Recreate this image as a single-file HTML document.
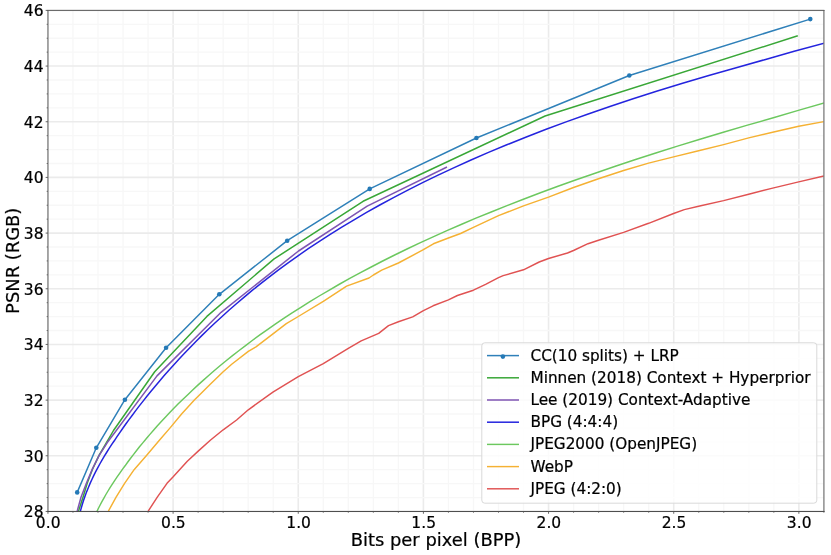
<!DOCTYPE html>
<html><head><meta charset="utf-8"><title>PSNR vs BPP</title>
<style>
html,body{margin:0;padding:0;background:#fff;}
svg{display:block;}
text{font-family:"DejaVu Sans","Liberation Sans",sans-serif;fill:#000;stroke:#000;stroke-width:0.22px;}
</style></head><body>
<svg width="831" height="555" viewBox="0 0 831 555">
<rect width="831" height="555" fill="#fff"/>
<defs><clipPath id="ax"><rect x="47.95" y="10.4" width="775.9499999999999" height="501.05"/></clipPath></defs>
<g><line x1="47.95" y1="10.4" x2="47.95" y2="511.45" stroke="#ebebeb" stroke-width="1.6"/>
<line x1="72.98" y1="10.4" x2="72.98" y2="511.45" stroke="#f7f7f7" stroke-width="1.3"/>
<line x1="98.01" y1="10.4" x2="98.01" y2="511.45" stroke="#f7f7f7" stroke-width="1.3"/>
<line x1="123.04" y1="10.4" x2="123.04" y2="511.45" stroke="#f7f7f7" stroke-width="1.3"/>
<line x1="148.07" y1="10.4" x2="148.07" y2="511.45" stroke="#f7f7f7" stroke-width="1.3"/>
<line x1="173.10" y1="10.4" x2="173.10" y2="511.45" stroke="#ebebeb" stroke-width="1.6"/>
<line x1="198.13" y1="10.4" x2="198.13" y2="511.45" stroke="#f7f7f7" stroke-width="1.3"/>
<line x1="223.16" y1="10.4" x2="223.16" y2="511.45" stroke="#f7f7f7" stroke-width="1.3"/>
<line x1="248.20" y1="10.4" x2="248.20" y2="511.45" stroke="#f7f7f7" stroke-width="1.3"/>
<line x1="273.23" y1="10.4" x2="273.23" y2="511.45" stroke="#f7f7f7" stroke-width="1.3"/>
<line x1="298.26" y1="10.4" x2="298.26" y2="511.45" stroke="#ebebeb" stroke-width="1.6"/>
<line x1="323.29" y1="10.4" x2="323.29" y2="511.45" stroke="#f7f7f7" stroke-width="1.3"/>
<line x1="348.32" y1="10.4" x2="348.32" y2="511.45" stroke="#f7f7f7" stroke-width="1.3"/>
<line x1="373.35" y1="10.4" x2="373.35" y2="511.45" stroke="#f7f7f7" stroke-width="1.3"/>
<line x1="398.38" y1="10.4" x2="398.38" y2="511.45" stroke="#f7f7f7" stroke-width="1.3"/>
<line x1="423.41" y1="10.4" x2="423.41" y2="511.45" stroke="#ebebeb" stroke-width="1.6"/>
<line x1="448.44" y1="10.4" x2="448.44" y2="511.45" stroke="#f7f7f7" stroke-width="1.3"/>
<line x1="473.47" y1="10.4" x2="473.47" y2="511.45" stroke="#f7f7f7" stroke-width="1.3"/>
<line x1="498.50" y1="10.4" x2="498.50" y2="511.45" stroke="#f7f7f7" stroke-width="1.3"/>
<line x1="523.53" y1="10.4" x2="523.53" y2="511.45" stroke="#f7f7f7" stroke-width="1.3"/>
<line x1="548.56" y1="10.4" x2="548.56" y2="511.45" stroke="#ebebeb" stroke-width="1.6"/>
<line x1="573.59" y1="10.4" x2="573.59" y2="511.45" stroke="#f7f7f7" stroke-width="1.3"/>
<line x1="598.62" y1="10.4" x2="598.62" y2="511.45" stroke="#f7f7f7" stroke-width="1.3"/>
<line x1="623.65" y1="10.4" x2="623.65" y2="511.45" stroke="#f7f7f7" stroke-width="1.3"/>
<line x1="648.69" y1="10.4" x2="648.69" y2="511.45" stroke="#f7f7f7" stroke-width="1.3"/>
<line x1="673.72" y1="10.4" x2="673.72" y2="511.45" stroke="#ebebeb" stroke-width="1.6"/>
<line x1="698.75" y1="10.4" x2="698.75" y2="511.45" stroke="#f7f7f7" stroke-width="1.3"/>
<line x1="723.78" y1="10.4" x2="723.78" y2="511.45" stroke="#f7f7f7" stroke-width="1.3"/>
<line x1="748.81" y1="10.4" x2="748.81" y2="511.45" stroke="#f7f7f7" stroke-width="1.3"/>
<line x1="773.84" y1="10.4" x2="773.84" y2="511.45" stroke="#f7f7f7" stroke-width="1.3"/>
<line x1="798.87" y1="10.4" x2="798.87" y2="511.45" stroke="#ebebeb" stroke-width="1.6"/>
<line x1="823.90" y1="10.4" x2="823.90" y2="511.45" stroke="#f7f7f7" stroke-width="1.3"/>
<line x1="47.95" y1="10.40" x2="823.9" y2="10.40" stroke="#ebebeb" stroke-width="1.6"/>
<line x1="47.95" y1="24.32" x2="823.9" y2="24.32" stroke="#f7f7f7" stroke-width="1.3"/>
<line x1="47.95" y1="38.24" x2="823.9" y2="38.24" stroke="#f7f7f7" stroke-width="1.3"/>
<line x1="47.95" y1="52.15" x2="823.9" y2="52.15" stroke="#f7f7f7" stroke-width="1.3"/>
<line x1="47.95" y1="66.07" x2="823.9" y2="66.07" stroke="#ebebeb" stroke-width="1.6"/>
<line x1="47.95" y1="79.99" x2="823.9" y2="79.99" stroke="#f7f7f7" stroke-width="1.3"/>
<line x1="47.95" y1="93.91" x2="823.9" y2="93.91" stroke="#f7f7f7" stroke-width="1.3"/>
<line x1="47.95" y1="107.83" x2="823.9" y2="107.83" stroke="#f7f7f7" stroke-width="1.3"/>
<line x1="47.95" y1="121.74" x2="823.9" y2="121.74" stroke="#ebebeb" stroke-width="1.6"/>
<line x1="47.95" y1="135.66" x2="823.9" y2="135.66" stroke="#f7f7f7" stroke-width="1.3"/>
<line x1="47.95" y1="149.58" x2="823.9" y2="149.58" stroke="#f7f7f7" stroke-width="1.3"/>
<line x1="47.95" y1="163.50" x2="823.9" y2="163.50" stroke="#f7f7f7" stroke-width="1.3"/>
<line x1="47.95" y1="177.42" x2="823.9" y2="177.42" stroke="#ebebeb" stroke-width="1.6"/>
<line x1="47.95" y1="191.33" x2="823.9" y2="191.33" stroke="#f7f7f7" stroke-width="1.3"/>
<line x1="47.95" y1="205.25" x2="823.9" y2="205.25" stroke="#f7f7f7" stroke-width="1.3"/>
<line x1="47.95" y1="219.17" x2="823.9" y2="219.17" stroke="#f7f7f7" stroke-width="1.3"/>
<line x1="47.95" y1="233.09" x2="823.9" y2="233.09" stroke="#ebebeb" stroke-width="1.6"/>
<line x1="47.95" y1="247.01" x2="823.9" y2="247.01" stroke="#f7f7f7" stroke-width="1.3"/>
<line x1="47.95" y1="260.93" x2="823.9" y2="260.93" stroke="#f7f7f7" stroke-width="1.3"/>
<line x1="47.95" y1="274.84" x2="823.9" y2="274.84" stroke="#f7f7f7" stroke-width="1.3"/>
<line x1="47.95" y1="288.76" x2="823.9" y2="288.76" stroke="#ebebeb" stroke-width="1.6"/>
<line x1="47.95" y1="302.68" x2="823.9" y2="302.68" stroke="#f7f7f7" stroke-width="1.3"/>
<line x1="47.95" y1="316.60" x2="823.9" y2="316.60" stroke="#f7f7f7" stroke-width="1.3"/>
<line x1="47.95" y1="330.52" x2="823.9" y2="330.52" stroke="#f7f7f7" stroke-width="1.3"/>
<line x1="47.95" y1="344.43" x2="823.9" y2="344.43" stroke="#ebebeb" stroke-width="1.6"/>
<line x1="47.95" y1="358.35" x2="823.9" y2="358.35" stroke="#f7f7f7" stroke-width="1.3"/>
<line x1="47.95" y1="372.27" x2="823.9" y2="372.27" stroke="#f7f7f7" stroke-width="1.3"/>
<line x1="47.95" y1="386.19" x2="823.9" y2="386.19" stroke="#f7f7f7" stroke-width="1.3"/>
<line x1="47.95" y1="400.11" x2="823.9" y2="400.11" stroke="#ebebeb" stroke-width="1.6"/>
<line x1="47.95" y1="414.02" x2="823.9" y2="414.02" stroke="#f7f7f7" stroke-width="1.3"/>
<line x1="47.95" y1="427.94" x2="823.9" y2="427.94" stroke="#f7f7f7" stroke-width="1.3"/>
<line x1="47.95" y1="441.86" x2="823.9" y2="441.86" stroke="#f7f7f7" stroke-width="1.3"/>
<line x1="47.95" y1="455.78" x2="823.9" y2="455.78" stroke="#ebebeb" stroke-width="1.6"/>
<line x1="47.95" y1="469.70" x2="823.9" y2="469.70" stroke="#f7f7f7" stroke-width="1.3"/>
<line x1="47.95" y1="483.61" x2="823.9" y2="483.61" stroke="#f7f7f7" stroke-width="1.3"/>
<line x1="47.95" y1="497.53" x2="823.9" y2="497.53" stroke="#f7f7f7" stroke-width="1.3"/>
<line x1="47.95" y1="511.45" x2="823.9" y2="511.45" stroke="#ebebeb" stroke-width="1.6"/></g>
<g clip-path="url(#ax)" fill="none" stroke-linejoin="round" stroke-linecap="butt">
<polyline points="77.0,516.0 78.5,511.1 83.0,497.2 87.2,483.3 92.4,469.4 99.0,455.4 106.0,443.5 113.5,430.5 154.7,371.8 206.9,316.4 274.1,258.9 363.1,201.3 545.1,116.0 797.8,35.8" stroke="#39a737" stroke-width="1.5"/>
<polyline points="76.0,516.0 77.2,511.1 81.0,497.2 86.4,483.3 92.2,469.4 99.2,455.4 107.3,442.5 116.5,430.3 157.0,375.9 221.1,312.3 298.5,251.0 367.2,206.2 447.0,167.0" stroke="#7f55b3" stroke-width="1.5"/>
<polyline points="79.5,514.5 80.8,509.6 82.2,504.8 83.6,500.3 85.1,495.9 86.7,491.6 88.4,487.5 90.1,483.4 91.9,479.5 93.7,475.6 95.7,471.7 97.7,467.8 99.8,464.0 102.0,460.2 104.2,456.4 106.6,452.5 109.0,448.6 111.6,444.7 114.3,440.8 117.0,436.7 119.8,432.6 122.8,428.3 125.8,424.0 129.0,419.6 132.3,415.2 135.7,410.6 139.3,405.9 143.1,401.1 146.9,396.2 151.0,391.3 155.2,386.2 159.6,381.0 164.2,375.6 168.9,370.2 173.9,364.7 179.1,359.1 184.5,353.3 190.1,347.5 195.9,341.5 202.0,335.4 208.3,329.3 214.9,323.0 221.8,316.7 228.9,310.3 236.4,303.7 244.2,297.1 252.2,290.4 260.7,283.6 269.4,276.8 278.5,269.9 288.1,262.9 298.0,255.8 308.3,248.7 319.0,241.6 330.2,234.4 341.8,227.1 354.0,219.8 366.6,212.4 379.8,205.0 393.5,197.6 407.8,190.1 422.6,182.6 438.1,175.1 454.2,167.6 471.0,160.0 488.5,152.4 506.8,144.8 525.7,137.2 545.5,129.5 566.1,121.9 587.5,114.2 609.9,106.5 633.1,98.8 657.3,91.0 682.6,83.3 708.8,75.5 736.2,67.7 764.7,59.7 794.2,51.3 825.0,42.9" stroke="#2424de" stroke-width="1.5"/>
<polyline points="96.5,512.4 98.2,508.8 100.0,505.2 101.9,501.6 103.9,498.1 105.9,494.5 108.0,491.0 110.2,487.4 112.5,483.9 114.8,480.3 117.3,476.7 119.8,473.1 122.4,469.4 125.1,465.8 127.8,462.0 130.6,458.2 133.6,454.4 136.6,450.5 139.7,446.5 143.0,442.6 146.4,438.5 149.9,434.4 153.5,430.3 157.2,426.0 161.1,421.8 165.1,417.4 169.3,413.0 173.6,408.6 178.0,404.1 182.7,399.5 187.5,394.9 192.4,390.2 197.6,385.4 202.9,380.6 208.4,375.7 214.1,370.8 220.0,365.8 226.1,360.8 232.5,355.6 239.1,350.5 245.9,345.3 252.9,340.0 260.2,334.7 267.8,329.3 275.6,323.9 283.7,318.4 292.1,312.9 300.9,307.3 309.9,301.7 319.2,296.0 328.9,290.3 338.9,284.5 349.3,278.7 360.0,272.9 371.2,267.0 382.7,261.0 394.7,255.0 407.0,249.0 419.9,242.9 433.1,236.8 446.9,230.7 461.1,224.5 475.9,218.2 491.2,212.0 507.0,205.6 523.4,199.2 540.4,192.8 558.0,186.3 576.2,179.8 595.1,173.2 614.6,166.5 634.8,159.8 655.8,153.0 677.5,146.1 700.0,139.2 723.3,132.2 747.5,125.1 772.5,118.0 798.3,110.4 825.0,102.7" stroke="#6cc85f" stroke-width="1.45"/>
<polyline points="108.4,511.1 116.1,497.2 124.6,483.3 134.3,469.4 146.5,455.4 159.6,440.0 170.3,427.6 181.8,413.7 194.6,399.8 198.2,396.2 210.0,384.6 223.2,371.8 231.7,364.2 248.3,351.4 256.0,346.8 273.3,333.6 286.3,323.7 298.3,316.5 323.3,301.3 346.6,286.1 369.0,278.0 373.4,275.0 381.7,270.2 398.4,263.0 423.4,249.7 433.4,243.8 448.4,238.0 460.6,233.5 473.4,227.3 498.5,215.6 523.5,205.9 548.5,197.1 573.5,187.5 598.5,178.7 623.6,170.5 648.6,163.1 673.6,156.9 698.6,150.8 723.6,144.6 748.7,137.9 773.7,132.0 798.7,126.3 823.9,121.6" stroke="#f5b133" stroke-width="1.45"/>
<polyline points="148.2,511.1 157.3,497.2 167.0,483.3 173.2,476.8 187.3,461.2 198.2,451.1 210.3,440.3 223.2,429.8 236.6,420.0 248.3,409.8 269.4,394.6 273.3,391.9 298.3,376.7 323.3,363.7 348.3,348.3 361.2,340.8 378.7,333.4 388.5,325.6 398.4,321.8 412.7,316.9 423.4,310.6 433.1,305.8 448.4,299.9 457.4,295.5 473.4,290.2 485.6,284.4 498.5,277.6 503.2,275.6 523.5,269.8 539.2,262.0 548.5,258.5 567.5,253.0 573.5,250.5 588.0,243.7 598.5,240.2 623.6,232.4 648.6,223.3 673.6,213.5 684.3,209.6 698.6,206.3 723.6,200.6 748.7,194.2 773.7,187.9 798.7,181.9 823.9,176.0" stroke="#e05252" stroke-width="1.45"/>
<polyline points="77.2,492.4 96.3,447.8 124.9,399.7 166.1,347.7 219.3,294.3 287.2,240.7 369.7,188.9 476.4,138.0 629.3,75.5 810.3,19.1" stroke="#2f80b9" stroke-width="1.5"/>
<circle cx="77.2" cy="492.4" r="2.3" fill="#2479b6"/><circle cx="96.3" cy="447.8" r="2.3" fill="#2479b6"/><circle cx="124.9" cy="399.7" r="2.3" fill="#2479b6"/><circle cx="166.1" cy="347.7" r="2.3" fill="#2479b6"/><circle cx="219.3" cy="294.3" r="2.3" fill="#2479b6"/><circle cx="287.2" cy="240.7" r="2.3" fill="#2479b6"/><circle cx="369.7" cy="188.9" r="2.3" fill="#2479b6"/><circle cx="476.4" cy="138.0" r="2.3" fill="#2479b6"/><circle cx="629.3" cy="75.5" r="2.3" fill="#2479b6"/><circle cx="810.3" cy="19.1" r="2.3" fill="#2479b6"/>
</g>
<line x1="47.95" y1="9.9" x2="47.95" y2="511.95" stroke="#7a7a7a" stroke-width="1.25"/>
<line x1="823.9" y1="9.9" x2="823.9" y2="511.95" stroke="#7a7a7a" stroke-width="1.25"/>
<line x1="47.35" y1="10.4" x2="824.5" y2="10.4" stroke="#5c5c5c" stroke-width="1.0"/>
<line x1="47.35" y1="511.45" x2="824.5" y2="511.45" stroke="#454545" stroke-width="1.0"/>
<g><line x1="47.95" y1="511.45" x2="47.95" y2="513.75" stroke="#555" stroke-width="0.9"/>
<line x1="72.98" y1="511.45" x2="72.98" y2="512.75" stroke="#555" stroke-width="0.8"/>
<line x1="98.01" y1="511.45" x2="98.01" y2="512.75" stroke="#555" stroke-width="0.8"/>
<line x1="123.04" y1="511.45" x2="123.04" y2="512.75" stroke="#555" stroke-width="0.8"/>
<line x1="148.07" y1="511.45" x2="148.07" y2="512.75" stroke="#555" stroke-width="0.8"/>
<line x1="173.10" y1="511.45" x2="173.10" y2="513.75" stroke="#555" stroke-width="0.9"/>
<line x1="198.13" y1="511.45" x2="198.13" y2="512.75" stroke="#555" stroke-width="0.8"/>
<line x1="223.16" y1="511.45" x2="223.16" y2="512.75" stroke="#555" stroke-width="0.8"/>
<line x1="248.20" y1="511.45" x2="248.20" y2="512.75" stroke="#555" stroke-width="0.8"/>
<line x1="273.23" y1="511.45" x2="273.23" y2="512.75" stroke="#555" stroke-width="0.8"/>
<line x1="298.26" y1="511.45" x2="298.26" y2="513.75" stroke="#555" stroke-width="0.9"/>
<line x1="323.29" y1="511.45" x2="323.29" y2="512.75" stroke="#555" stroke-width="0.8"/>
<line x1="348.32" y1="511.45" x2="348.32" y2="512.75" stroke="#555" stroke-width="0.8"/>
<line x1="373.35" y1="511.45" x2="373.35" y2="512.75" stroke="#555" stroke-width="0.8"/>
<line x1="398.38" y1="511.45" x2="398.38" y2="512.75" stroke="#555" stroke-width="0.8"/>
<line x1="423.41" y1="511.45" x2="423.41" y2="513.75" stroke="#555" stroke-width="0.9"/>
<line x1="448.44" y1="511.45" x2="448.44" y2="512.75" stroke="#555" stroke-width="0.8"/>
<line x1="473.47" y1="511.45" x2="473.47" y2="512.75" stroke="#555" stroke-width="0.8"/>
<line x1="498.50" y1="511.45" x2="498.50" y2="512.75" stroke="#555" stroke-width="0.8"/>
<line x1="523.53" y1="511.45" x2="523.53" y2="512.75" stroke="#555" stroke-width="0.8"/>
<line x1="548.56" y1="511.45" x2="548.56" y2="513.75" stroke="#555" stroke-width="0.9"/>
<line x1="573.59" y1="511.45" x2="573.59" y2="512.75" stroke="#555" stroke-width="0.8"/>
<line x1="598.62" y1="511.45" x2="598.62" y2="512.75" stroke="#555" stroke-width="0.8"/>
<line x1="623.65" y1="511.45" x2="623.65" y2="512.75" stroke="#555" stroke-width="0.8"/>
<line x1="648.69" y1="511.45" x2="648.69" y2="512.75" stroke="#555" stroke-width="0.8"/>
<line x1="673.72" y1="511.45" x2="673.72" y2="513.75" stroke="#555" stroke-width="0.9"/>
<line x1="698.75" y1="511.45" x2="698.75" y2="512.75" stroke="#555" stroke-width="0.8"/>
<line x1="723.78" y1="511.45" x2="723.78" y2="512.75" stroke="#555" stroke-width="0.8"/>
<line x1="748.81" y1="511.45" x2="748.81" y2="512.75" stroke="#555" stroke-width="0.8"/>
<line x1="773.84" y1="511.45" x2="773.84" y2="512.75" stroke="#555" stroke-width="0.8"/>
<line x1="798.87" y1="511.45" x2="798.87" y2="513.75" stroke="#555" stroke-width="0.9"/>
<line x1="823.90" y1="511.45" x2="823.90" y2="512.75" stroke="#555" stroke-width="0.8"/>
<line x1="45.650000000000006" y1="10.40" x2="47.95" y2="10.40" stroke="#555" stroke-width="0.9"/>
<line x1="46.650000000000006" y1="24.32" x2="47.95" y2="24.32" stroke="#555" stroke-width="0.8"/>
<line x1="46.650000000000006" y1="38.24" x2="47.95" y2="38.24" stroke="#555" stroke-width="0.8"/>
<line x1="46.650000000000006" y1="52.15" x2="47.95" y2="52.15" stroke="#555" stroke-width="0.8"/>
<line x1="45.650000000000006" y1="66.07" x2="47.95" y2="66.07" stroke="#555" stroke-width="0.9"/>
<line x1="46.650000000000006" y1="79.99" x2="47.95" y2="79.99" stroke="#555" stroke-width="0.8"/>
<line x1="46.650000000000006" y1="93.91" x2="47.95" y2="93.91" stroke="#555" stroke-width="0.8"/>
<line x1="46.650000000000006" y1="107.83" x2="47.95" y2="107.83" stroke="#555" stroke-width="0.8"/>
<line x1="45.650000000000006" y1="121.74" x2="47.95" y2="121.74" stroke="#555" stroke-width="0.9"/>
<line x1="46.650000000000006" y1="135.66" x2="47.95" y2="135.66" stroke="#555" stroke-width="0.8"/>
<line x1="46.650000000000006" y1="149.58" x2="47.95" y2="149.58" stroke="#555" stroke-width="0.8"/>
<line x1="46.650000000000006" y1="163.50" x2="47.95" y2="163.50" stroke="#555" stroke-width="0.8"/>
<line x1="45.650000000000006" y1="177.42" x2="47.95" y2="177.42" stroke="#555" stroke-width="0.9"/>
<line x1="46.650000000000006" y1="191.33" x2="47.95" y2="191.33" stroke="#555" stroke-width="0.8"/>
<line x1="46.650000000000006" y1="205.25" x2="47.95" y2="205.25" stroke="#555" stroke-width="0.8"/>
<line x1="46.650000000000006" y1="219.17" x2="47.95" y2="219.17" stroke="#555" stroke-width="0.8"/>
<line x1="45.650000000000006" y1="233.09" x2="47.95" y2="233.09" stroke="#555" stroke-width="0.9"/>
<line x1="46.650000000000006" y1="247.01" x2="47.95" y2="247.01" stroke="#555" stroke-width="0.8"/>
<line x1="46.650000000000006" y1="260.93" x2="47.95" y2="260.93" stroke="#555" stroke-width="0.8"/>
<line x1="46.650000000000006" y1="274.84" x2="47.95" y2="274.84" stroke="#555" stroke-width="0.8"/>
<line x1="45.650000000000006" y1="288.76" x2="47.95" y2="288.76" stroke="#555" stroke-width="0.9"/>
<line x1="46.650000000000006" y1="302.68" x2="47.95" y2="302.68" stroke="#555" stroke-width="0.8"/>
<line x1="46.650000000000006" y1="316.60" x2="47.95" y2="316.60" stroke="#555" stroke-width="0.8"/>
<line x1="46.650000000000006" y1="330.52" x2="47.95" y2="330.52" stroke="#555" stroke-width="0.8"/>
<line x1="45.650000000000006" y1="344.43" x2="47.95" y2="344.43" stroke="#555" stroke-width="0.9"/>
<line x1="46.650000000000006" y1="358.35" x2="47.95" y2="358.35" stroke="#555" stroke-width="0.8"/>
<line x1="46.650000000000006" y1="372.27" x2="47.95" y2="372.27" stroke="#555" stroke-width="0.8"/>
<line x1="46.650000000000006" y1="386.19" x2="47.95" y2="386.19" stroke="#555" stroke-width="0.8"/>
<line x1="45.650000000000006" y1="400.11" x2="47.95" y2="400.11" stroke="#555" stroke-width="0.9"/>
<line x1="46.650000000000006" y1="414.02" x2="47.95" y2="414.02" stroke="#555" stroke-width="0.8"/>
<line x1="46.650000000000006" y1="427.94" x2="47.95" y2="427.94" stroke="#555" stroke-width="0.8"/>
<line x1="46.650000000000006" y1="441.86" x2="47.95" y2="441.86" stroke="#555" stroke-width="0.8"/>
<line x1="45.650000000000006" y1="455.78" x2="47.95" y2="455.78" stroke="#555" stroke-width="0.9"/>
<line x1="46.650000000000006" y1="469.70" x2="47.95" y2="469.70" stroke="#555" stroke-width="0.8"/>
<line x1="46.650000000000006" y1="483.61" x2="47.95" y2="483.61" stroke="#555" stroke-width="0.8"/>
<line x1="46.650000000000006" y1="497.53" x2="47.95" y2="497.53" stroke="#555" stroke-width="0.8"/>
<line x1="45.650000000000006" y1="511.45" x2="47.95" y2="511.45" stroke="#555" stroke-width="0.9"/></g>
<g font-size="15.5">
<text x="48.2" y="527.6" text-anchor="middle">0.0</text><text x="173.4" y="527.6" text-anchor="middle">0.5</text><text x="298.6" y="527.6" text-anchor="middle">1.0</text><text x="423.7" y="527.6" text-anchor="middle">1.5</text><text x="548.9" y="527.6" text-anchor="middle">2.0</text><text x="674.0" y="527.6" text-anchor="middle">2.5</text><text x="799.2" y="527.6" text-anchor="middle">3.0</text><text x="43.6" y="16.3" text-anchor="end">46</text><text x="43.6" y="72.0" text-anchor="end">44</text><text x="43.6" y="127.6" text-anchor="end">42</text><text x="43.6" y="183.3" text-anchor="end">40</text><text x="43.6" y="239.0" text-anchor="end">38</text><text x="43.6" y="294.7" text-anchor="end">36</text><text x="43.6" y="350.3" text-anchor="end">34</text><text x="43.6" y="406.0" text-anchor="end">32</text><text x="43.6" y="461.7" text-anchor="end">30</text><text x="43.6" y="517.4" text-anchor="end">28</text>
</g>
<text x="436" y="546.4" font-size="17.9" text-anchor="middle">Bits per pixel (BPP)</text>
<text transform="translate(18.8,260.8) rotate(-90)" font-size="17.9" text-anchor="middle">PSNR (RGB)</text>
<rect x="481.8" y="342.8" width="334.99999999999994" height="160.39999999999998" rx="3" ry="3" fill="#fff" fill-opacity="0.8" stroke="#d9d9d9" stroke-width="1"/>
<g font-size="15.25">
<line x1="487.0" y1="355.6" x2="519.0" y2="355.6" stroke="#2f80b9" stroke-width="1.5"/><circle cx="502.9" cy="356.6" r="2.3" fill="#2479b6"/><text x="530.5" y="360.5">CC(10 splits) + LRP</text>
<line x1="487.0" y1="377.8" x2="519.0" y2="377.8" stroke="#39a737" stroke-width="1.5"/><text x="530.5" y="382.7">Minnen (2018) Context + Hyperprior</text>
<line x1="487.0" y1="400.0" x2="519.0" y2="400.0" stroke="#7f55b3" stroke-width="1.5"/><text x="530.5" y="404.9">Lee (2019) Context-Adaptive</text>
<line x1="487.0" y1="422.2" x2="519.0" y2="422.2" stroke="#2424de" stroke-width="1.5"/><text x="530.5" y="427.1">BPG (4:4:4)</text>
<line x1="487.0" y1="444.4" x2="519.0" y2="444.4" stroke="#6cc85f" stroke-width="1.45"/><text x="530.5" y="449.3">JPEG2000 (OpenJPEG)</text>
<line x1="487.0" y1="466.6" x2="519.0" y2="466.6" stroke="#f5b133" stroke-width="1.45"/><text x="530.5" y="471.5">WebP</text>
<line x1="487.0" y1="488.8" x2="519.0" y2="488.8" stroke="#e05252" stroke-width="1.45"/><text x="530.5" y="493.7">JPEG (4:2:0)</text>
</g>
</svg>
</body></html>
